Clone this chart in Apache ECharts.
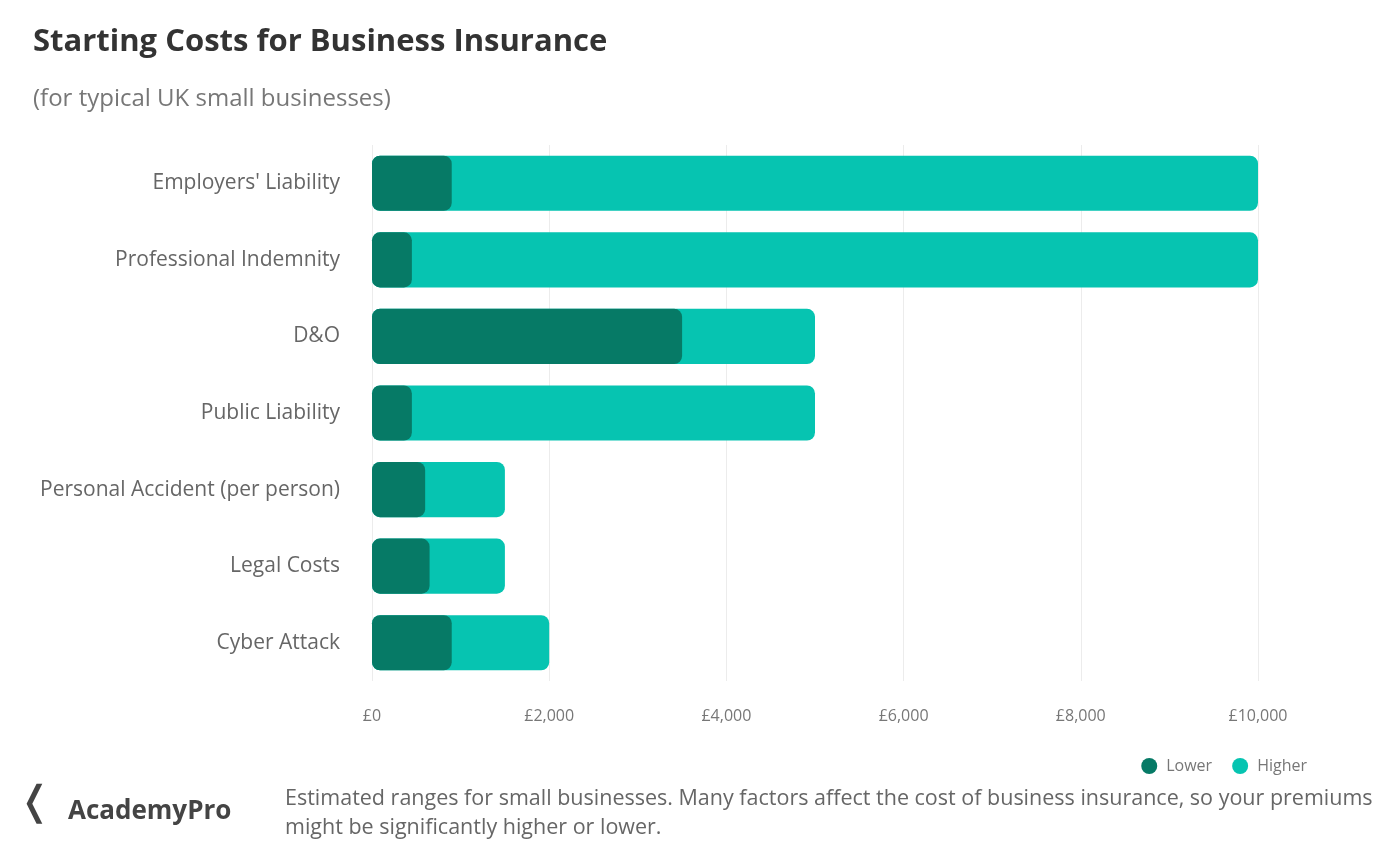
<!DOCTYPE html>
<html>
<head>
<meta charset="utf-8">
<script src="https://cdn.jsdelivr.net/npm/echarts@6/dist/echarts.min.js"></script>
<style>
html,body{margin:0;padding:0;background:#fff;}
#chart{width:1400px;height:852px;}
</style>
</head>
<body>
<div id="chart"></div>
<script>
const categories = [
  "Employers' Liability",
  "Professional Indemnity",
  "D&O",
  "Public Liability",
  "Personal Accident (per person)",
  "Legal Costs",
  "Cyber Attack"
];
const lowerValues = [900, 450, 3500, 450, 600, 650, 900];
const higherValues = [10000, 10000, 5000, 5000, 1500, 1500, 2000];
const tickLabels = ["£0", "£2,000", "£4,000", "£6,000", "£8,000", "£10,000"];

const titleText = "Starting Costs for Business Insurance";
const subtitleText = "(for typical UK small businesses)";
const noteText = "Estimated ranges for small businesses. Many factors affect the cost of business insurance, so your premiums\nmight be significantly higher or lower.";
const brandText = "AcademyPro";

const chart = echarts.init(document.getElementById('chart'), null, {renderer: 'canvas'});
const FONT = '"Open Sans", sans-serif';

chart.setOption({
  backgroundColor: '#ffffff',
  animation: false,
  textStyle: {fontFamily: FONT},
  title: [
    {text: titleText, left: 28, top: 22,
     textStyle: {fontSize: 31, fontWeight: 'bold', color: '#333333', fontFamily: FONT}},
    {text: subtitleText, left: 28, top: 82,
     textStyle: {fontSize: 24, fontWeight: 'normal', color: '#777777', fontFamily: FONT}},
    {text: noteText, left: 280, top: 779,
     textStyle: {fontSize: 21.5, fontWeight: 'normal', color: '#666666', lineHeight: 29, fontFamily: FONT}},
    {text: brandText, left: 63, top: 794,
     textStyle: {fontSize: 26, fontWeight: 'bold', color: '#444444', fontFamily: FONT}}
  ],
  graphic: [
    {type: 'text', left: 18, top: 784,
     style: {text: '❬', fontSize: 40, fontWeight: 'bold', fill: '#444444', fontFamily: 'DejaVu Sans'}}
  ],
  legend: {
    data: ['Lower', 'Higher'],
    right: 88, top: 753,
    icon: 'circle', itemWidth: 16, itemHeight: 16, itemGap: 20,
    textStyle: {fontSize: 16, color: '#777777', fontFamily: FONT, padding: [0, 0, 0, 4]}
  },
  grid: {left: 372, right: 142, top: 145, bottom: 171, containLabel: false},
  xAxis: {
    type: 'value', min: 0, max: 10000, interval: 2000,
    axisLine: {show: false}, axisTick: {show: false},
    splitLine: {show: true, lineStyle: {color: '#ececec', width: 1}},
    axisLabel: {
      fontSize: 16, color: '#777777', margin: 27, fontFamily: FONT,
      formatter: function (v) { return tickLabels[Math.round(v / 2000)] || ''; }
    }
  },
  yAxis: {
    type: 'category', data: categories, inverse: true,
    axisLine: {show: false}, axisTick: {show: false},
    axisLabel: {fontSize: 21, color: '#666666', margin: 32, fontFamily: FONT}
  },
  series: [
    {name: 'Higher', type: 'bar', data: higherValues, barCategoryGap: '28%', barGap: '-100%',
     itemStyle: {color: '#06c4b1', borderRadius: 8}, z: 2},
    {name: 'Lower', type: 'bar', data: lowerValues, barCategoryGap: '28%', barGap: '-100%',
     itemStyle: {color: '#067a66', borderRadius: 8}, z: 3}
  ]
});
</script>
</body>
</html>
